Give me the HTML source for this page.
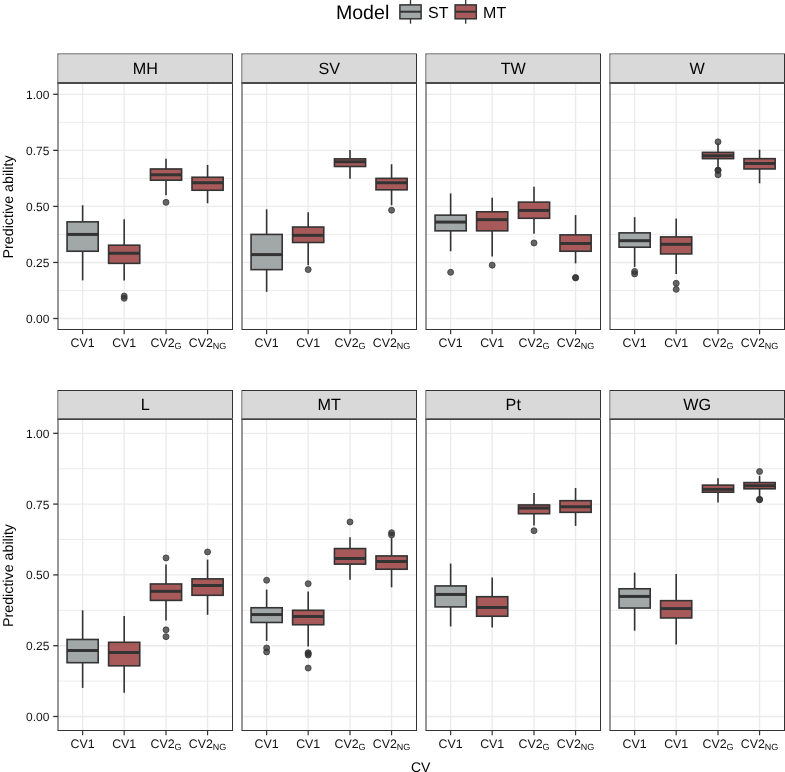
<!DOCTYPE html>
<html><head><meta charset="utf-8"><style>
html,body{margin:0;padding:0;background:#fff;}
body{width:785px;height:772px;overflow:hidden;}
svg{display:block;}
</style></head><body>
<svg width="785" height="772" viewBox="0 0 785 772" font-family="'Liberation Sans', Arial, Helvetica, sans-serif">
<rect x="0" y="0" width="785" height="772" fill="#ffffff"/>
<rect x="58.00" y="83.00" width="174.50" height="246.50" fill="#ffffff"/>
<line x1="58.00" x2="232.50" y1="290.48" y2="290.48" stroke="#EBEBEB" stroke-width="1.0"/>
<line x1="58.00" x2="232.50" y1="234.43" y2="234.43" stroke="#EBEBEB" stroke-width="1.0"/>
<line x1="58.00" x2="232.50" y1="178.38" y2="178.38" stroke="#EBEBEB" stroke-width="1.0"/>
<line x1="58.00" x2="232.50" y1="122.33" y2="122.33" stroke="#EBEBEB" stroke-width="1.0"/>
<line x1="58.00" x2="232.50" y1="318.50" y2="318.50" stroke="#EBEBEB" stroke-width="1.35"/>
<line x1="58.00" x2="232.50" y1="262.45" y2="262.45" stroke="#EBEBEB" stroke-width="1.35"/>
<line x1="58.00" x2="232.50" y1="206.40" y2="206.40" stroke="#EBEBEB" stroke-width="1.35"/>
<line x1="58.00" x2="232.50" y1="150.35" y2="150.35" stroke="#EBEBEB" stroke-width="1.35"/>
<line x1="58.00" x2="232.50" y1="94.30" y2="94.30" stroke="#EBEBEB" stroke-width="1.35"/>
<line x1="82.63" x2="82.63" y1="83.00" y2="329.50" stroke="#EBEBEB" stroke-width="1.35"/>
<line x1="124.18" x2="124.18" y1="83.00" y2="329.50" stroke="#EBEBEB" stroke-width="1.35"/>
<line x1="166.02" x2="166.02" y1="83.00" y2="329.50" stroke="#EBEBEB" stroke-width="1.35"/>
<line x1="207.57" x2="207.57" y1="83.00" y2="329.50" stroke="#EBEBEB" stroke-width="1.35"/>
<line x1="82.63" x2="82.63" y1="205.28" y2="221.87" stroke="#333333" stroke-width="1.6"/>
<line x1="82.63" x2="82.63" y1="251.24" y2="280.39" stroke="#333333" stroke-width="1.6"/>
<rect x="67.05" y="221.87" width="31.16" height="29.37" fill="#A2A8A8" stroke="#333333" stroke-width="1.6"/>
<line x1="67.05" x2="98.21" y1="234.43" y2="234.43" stroke="#333333" stroke-width="3.0"/>
<line x1="124.18" x2="124.18" y1="219.18" y2="245.19" stroke="#333333" stroke-width="1.6"/>
<line x1="124.18" x2="124.18" y1="263.35" y2="280.39" stroke="#333333" stroke-width="1.6"/>
<rect x="108.60" y="245.19" width="31.16" height="18.16" fill="#A85A5A" stroke="#333333" stroke-width="1.6"/>
<line x1="108.60" x2="139.76" y1="253.26" y2="253.26" stroke="#333333" stroke-width="3.0"/>
<circle cx="124.18" cy="296.08" r="3.0" fill="#333333" fill-opacity="0.75" stroke="#333333" stroke-opacity="0.75" stroke-width="1"/>
<circle cx="124.18" cy="298.32" r="3.0" fill="#333333" fill-opacity="0.75" stroke="#333333" stroke-opacity="0.75" stroke-width="1"/>
<line x1="166.02" x2="166.02" y1="158.87" y2="168.96" stroke="#333333" stroke-width="1.6"/>
<line x1="166.02" x2="166.02" y1="180.17" y2="195.19" stroke="#333333" stroke-width="1.6"/>
<rect x="150.44" y="168.96" width="31.16" height="11.21" fill="#A85A5A" stroke="#333333" stroke-width="1.6"/>
<line x1="150.44" x2="181.60" y1="174.79" y2="174.79" stroke="#333333" stroke-width="3.0"/>
<circle cx="166.02" cy="202.36" r="3.0" fill="#333333" fill-opacity="0.75" stroke="#333333" stroke-opacity="0.75" stroke-width="1"/>
<line x1="207.57" x2="207.57" y1="164.92" y2="177.25" stroke="#333333" stroke-width="1.6"/>
<line x1="207.57" x2="207.57" y1="190.26" y2="203.26" stroke="#333333" stroke-width="1.6"/>
<rect x="191.99" y="177.25" width="31.16" height="13.00" fill="#A85A5A" stroke="#333333" stroke-width="1.6"/>
<line x1="191.99" x2="223.15" y1="182.86" y2="182.86" stroke="#333333" stroke-width="3.0"/>
<rect x="58.00" y="54.00" width="174.50" height="275.50" fill="none" stroke="#333333" stroke-width="1"/>
<rect x="58.50" y="54.50" width="173.50" height="27.50" fill="#D9D9D9"/>
<rect x="57.50" y="82" width="175.50" height="2" fill="#4a4a4a"/>
<text transform="translate(145.25 74.10) skewX(0.05)" font-size="16.2" text-anchor="middle" fill="#000">MH</text>
<line x1="82.63" x2="82.63" y1="329.50" y2="334.30" stroke="#333333" stroke-width="1.2"/>
<text transform="translate(82.63 346.90) skewX(0.05)" font-size="12.4" text-anchor="middle" fill="#111111">CV1</text>
<line x1="124.18" x2="124.18" y1="329.50" y2="334.30" stroke="#333333" stroke-width="1.2"/>
<text transform="translate(124.18 346.90) skewX(0.05)" font-size="12.4" text-anchor="middle" fill="#111111">CV1</text>
<line x1="166.02" x2="166.02" y1="329.50" y2="334.30" stroke="#333333" stroke-width="1.2"/>
<text transform="translate(166.02 346.90) skewX(0.05)" font-size="12.4" text-anchor="middle" fill="#111111">CV2<tspan font-size="9" dy="2.2">G</tspan></text>
<line x1="207.57" x2="207.57" y1="329.50" y2="334.30" stroke="#333333" stroke-width="1.2"/>
<text transform="translate(207.57 346.90) skewX(0.05)" font-size="12.4" text-anchor="middle" fill="#111111">CV2<tspan font-size="9" dy="2.2">NG</tspan></text>
<rect x="242.00" y="83.00" width="174.50" height="246.50" fill="#ffffff"/>
<line x1="242.00" x2="416.50" y1="290.48" y2="290.48" stroke="#EBEBEB" stroke-width="1.0"/>
<line x1="242.00" x2="416.50" y1="234.43" y2="234.43" stroke="#EBEBEB" stroke-width="1.0"/>
<line x1="242.00" x2="416.50" y1="178.38" y2="178.38" stroke="#EBEBEB" stroke-width="1.0"/>
<line x1="242.00" x2="416.50" y1="122.33" y2="122.33" stroke="#EBEBEB" stroke-width="1.0"/>
<line x1="242.00" x2="416.50" y1="318.50" y2="318.50" stroke="#EBEBEB" stroke-width="1.35"/>
<line x1="242.00" x2="416.50" y1="262.45" y2="262.45" stroke="#EBEBEB" stroke-width="1.35"/>
<line x1="242.00" x2="416.50" y1="206.40" y2="206.40" stroke="#EBEBEB" stroke-width="1.35"/>
<line x1="242.00" x2="416.50" y1="150.35" y2="150.35" stroke="#EBEBEB" stroke-width="1.35"/>
<line x1="242.00" x2="416.50" y1="94.30" y2="94.30" stroke="#EBEBEB" stroke-width="1.35"/>
<line x1="266.63" x2="266.63" y1="83.00" y2="329.50" stroke="#EBEBEB" stroke-width="1.35"/>
<line x1="308.18" x2="308.18" y1="83.00" y2="329.50" stroke="#EBEBEB" stroke-width="1.35"/>
<line x1="350.02" x2="350.02" y1="83.00" y2="329.50" stroke="#EBEBEB" stroke-width="1.35"/>
<line x1="391.57" x2="391.57" y1="83.00" y2="329.50" stroke="#EBEBEB" stroke-width="1.35"/>
<line x1="266.63" x2="266.63" y1="209.31" y2="234.43" stroke="#333333" stroke-width="1.6"/>
<line x1="266.63" x2="266.63" y1="269.62" y2="291.82" stroke="#333333" stroke-width="1.6"/>
<rect x="251.05" y="234.43" width="31.16" height="35.20" fill="#A2A8A8" stroke="#333333" stroke-width="1.6"/>
<line x1="251.05" x2="282.21" y1="254.60" y2="254.60" stroke="#333333" stroke-width="3.0"/>
<line x1="308.18" x2="308.18" y1="212.23" y2="227.03" stroke="#333333" stroke-width="1.6"/>
<line x1="308.18" x2="308.18" y1="242.50" y2="265.14" stroke="#333333" stroke-width="1.6"/>
<rect x="292.60" y="227.03" width="31.16" height="15.47" fill="#A85A5A" stroke="#333333" stroke-width="1.6"/>
<line x1="292.60" x2="323.76" y1="235.32" y2="235.32" stroke="#333333" stroke-width="3.0"/>
<circle cx="308.18" cy="269.62" r="3.0" fill="#333333" fill-opacity="0.75" stroke="#333333" stroke-opacity="0.75" stroke-width="1"/>
<line x1="350.02" x2="350.02" y1="149.90" y2="158.87" stroke="#333333" stroke-width="1.6"/>
<line x1="350.02" x2="350.02" y1="166.49" y2="178.82" stroke="#333333" stroke-width="1.6"/>
<rect x="334.44" y="158.87" width="31.16" height="7.62" fill="#A85A5A" stroke="#333333" stroke-width="1.6"/>
<line x1="334.44" x2="365.60" y1="161.78" y2="161.78" stroke="#333333" stroke-width="3.0"/>
<line x1="391.57" x2="391.57" y1="164.25" y2="178.38" stroke="#333333" stroke-width="1.6"/>
<line x1="391.57" x2="391.57" y1="189.81" y2="205.28" stroke="#333333" stroke-width="1.6"/>
<rect x="375.99" y="178.38" width="31.16" height="11.43" fill="#A85A5A" stroke="#333333" stroke-width="1.6"/>
<line x1="375.99" x2="407.15" y1="182.63" y2="182.63" stroke="#333333" stroke-width="3.0"/>
<circle cx="391.57" cy="210.21" r="3.0" fill="#333333" fill-opacity="0.75" stroke="#333333" stroke-opacity="0.75" stroke-width="1"/>
<rect x="242.00" y="54.00" width="174.50" height="275.50" fill="none" stroke="#333333" stroke-width="1"/>
<rect x="242.50" y="54.50" width="173.50" height="27.50" fill="#D9D9D9"/>
<rect x="241.50" y="82" width="175.50" height="2" fill="#4a4a4a"/>
<text transform="translate(329.25 74.10) skewX(0.05)" font-size="16.2" text-anchor="middle" fill="#000">SV</text>
<line x1="266.63" x2="266.63" y1="329.50" y2="334.30" stroke="#333333" stroke-width="1.2"/>
<text transform="translate(266.63 346.90) skewX(0.05)" font-size="12.4" text-anchor="middle" fill="#111111">CV1</text>
<line x1="308.18" x2="308.18" y1="329.50" y2="334.30" stroke="#333333" stroke-width="1.2"/>
<text transform="translate(308.18 346.90) skewX(0.05)" font-size="12.4" text-anchor="middle" fill="#111111">CV1</text>
<line x1="350.02" x2="350.02" y1="329.50" y2="334.30" stroke="#333333" stroke-width="1.2"/>
<text transform="translate(350.02 346.90) skewX(0.05)" font-size="12.4" text-anchor="middle" fill="#111111">CV2<tspan font-size="9" dy="2.2">G</tspan></text>
<line x1="391.57" x2="391.57" y1="329.50" y2="334.30" stroke="#333333" stroke-width="1.2"/>
<text transform="translate(391.57 346.90) skewX(0.05)" font-size="12.4" text-anchor="middle" fill="#111111">CV2<tspan font-size="9" dy="2.2">NG</tspan></text>
<rect x="426.00" y="83.00" width="174.50" height="246.50" fill="#ffffff"/>
<line x1="426.00" x2="600.50" y1="290.48" y2="290.48" stroke="#EBEBEB" stroke-width="1.0"/>
<line x1="426.00" x2="600.50" y1="234.43" y2="234.43" stroke="#EBEBEB" stroke-width="1.0"/>
<line x1="426.00" x2="600.50" y1="178.38" y2="178.38" stroke="#EBEBEB" stroke-width="1.0"/>
<line x1="426.00" x2="600.50" y1="122.33" y2="122.33" stroke="#EBEBEB" stroke-width="1.0"/>
<line x1="426.00" x2="600.50" y1="318.50" y2="318.50" stroke="#EBEBEB" stroke-width="1.35"/>
<line x1="426.00" x2="600.50" y1="262.45" y2="262.45" stroke="#EBEBEB" stroke-width="1.35"/>
<line x1="426.00" x2="600.50" y1="206.40" y2="206.40" stroke="#EBEBEB" stroke-width="1.35"/>
<line x1="426.00" x2="600.50" y1="150.35" y2="150.35" stroke="#EBEBEB" stroke-width="1.35"/>
<line x1="426.00" x2="600.50" y1="94.30" y2="94.30" stroke="#EBEBEB" stroke-width="1.35"/>
<line x1="450.63" x2="450.63" y1="83.00" y2="329.50" stroke="#EBEBEB" stroke-width="1.35"/>
<line x1="492.18" x2="492.18" y1="83.00" y2="329.50" stroke="#EBEBEB" stroke-width="1.35"/>
<line x1="534.02" x2="534.02" y1="83.00" y2="329.50" stroke="#EBEBEB" stroke-width="1.35"/>
<line x1="575.57" x2="575.57" y1="83.00" y2="329.50" stroke="#EBEBEB" stroke-width="1.35"/>
<line x1="450.63" x2="450.63" y1="193.40" y2="215.14" stroke="#333333" stroke-width="1.6"/>
<line x1="450.63" x2="450.63" y1="230.84" y2="251.24" stroke="#333333" stroke-width="1.6"/>
<rect x="435.05" y="215.14" width="31.16" height="15.69" fill="#A2A8A8" stroke="#333333" stroke-width="1.6"/>
<line x1="435.05" x2="466.21" y1="222.09" y2="222.09" stroke="#333333" stroke-width="3.0"/>
<circle cx="450.63" cy="272.31" r="3.0" fill="#333333" fill-opacity="0.75" stroke="#333333" stroke-opacity="0.75" stroke-width="1"/>
<line x1="492.18" x2="492.18" y1="197.66" y2="211.78" stroke="#333333" stroke-width="1.6"/>
<line x1="492.18" x2="492.18" y1="230.84" y2="256.62" stroke="#333333" stroke-width="1.6"/>
<rect x="476.60" y="211.78" width="31.16" height="19.06" fill="#A85A5A" stroke="#333333" stroke-width="1.6"/>
<line x1="476.60" x2="507.76" y1="219.63" y2="219.63" stroke="#333333" stroke-width="3.0"/>
<circle cx="492.18" cy="265.14" r="3.0" fill="#333333" fill-opacity="0.75" stroke="#333333" stroke-opacity="0.75" stroke-width="1"/>
<line x1="534.02" x2="534.02" y1="186.67" y2="202.14" stroke="#333333" stroke-width="1.6"/>
<line x1="534.02" x2="534.02" y1="218.28" y2="233.75" stroke="#333333" stroke-width="1.6"/>
<rect x="518.44" y="202.14" width="31.16" height="16.14" fill="#A85A5A" stroke="#333333" stroke-width="1.6"/>
<line x1="518.44" x2="549.60" y1="210.44" y2="210.44" stroke="#333333" stroke-width="3.0"/>
<circle cx="534.02" cy="242.94" r="3.0" fill="#333333" fill-opacity="0.75" stroke="#333333" stroke-opacity="0.75" stroke-width="1"/>
<line x1="575.57" x2="575.57" y1="215.14" y2="234.87" stroke="#333333" stroke-width="1.6"/>
<line x1="575.57" x2="575.57" y1="251.24" y2="263.35" stroke="#333333" stroke-width="1.6"/>
<rect x="559.99" y="234.87" width="31.16" height="16.37" fill="#A85A5A" stroke="#333333" stroke-width="1.6"/>
<line x1="559.99" x2="591.15" y1="243.39" y2="243.39" stroke="#333333" stroke-width="3.0"/>
<circle cx="575.57" cy="277.92" r="3.0" fill="#333333" fill-opacity="0.75" stroke="#333333" stroke-opacity="0.75" stroke-width="1"/>
<circle cx="575.57" cy="277.47" r="3.0" fill="#333333" fill-opacity="0.75" stroke="#333333" stroke-opacity="0.75" stroke-width="1"/>
<rect x="426.00" y="54.00" width="174.50" height="275.50" fill="none" stroke="#333333" stroke-width="1"/>
<rect x="426.50" y="54.50" width="173.50" height="27.50" fill="#D9D9D9"/>
<rect x="425.50" y="82" width="175.50" height="2" fill="#4a4a4a"/>
<text transform="translate(513.25 74.10) skewX(0.05)" font-size="16.2" text-anchor="middle" fill="#000">TW</text>
<line x1="450.63" x2="450.63" y1="329.50" y2="334.30" stroke="#333333" stroke-width="1.2"/>
<text transform="translate(450.63 346.90) skewX(0.05)" font-size="12.4" text-anchor="middle" fill="#111111">CV1</text>
<line x1="492.18" x2="492.18" y1="329.50" y2="334.30" stroke="#333333" stroke-width="1.2"/>
<text transform="translate(492.18 346.90) skewX(0.05)" font-size="12.4" text-anchor="middle" fill="#111111">CV1</text>
<line x1="534.02" x2="534.02" y1="329.50" y2="334.30" stroke="#333333" stroke-width="1.2"/>
<text transform="translate(534.02 346.90) skewX(0.05)" font-size="12.4" text-anchor="middle" fill="#111111">CV2<tspan font-size="9" dy="2.2">G</tspan></text>
<line x1="575.57" x2="575.57" y1="329.50" y2="334.30" stroke="#333333" stroke-width="1.2"/>
<text transform="translate(575.57 346.90) skewX(0.05)" font-size="12.4" text-anchor="middle" fill="#111111">CV2<tspan font-size="9" dy="2.2">NG</tspan></text>
<rect x="610.00" y="83.00" width="174.50" height="246.50" fill="#ffffff"/>
<line x1="610.00" x2="784.50" y1="290.48" y2="290.48" stroke="#EBEBEB" stroke-width="1.0"/>
<line x1="610.00" x2="784.50" y1="234.43" y2="234.43" stroke="#EBEBEB" stroke-width="1.0"/>
<line x1="610.00" x2="784.50" y1="178.38" y2="178.38" stroke="#EBEBEB" stroke-width="1.0"/>
<line x1="610.00" x2="784.50" y1="122.33" y2="122.33" stroke="#EBEBEB" stroke-width="1.0"/>
<line x1="610.00" x2="784.50" y1="318.50" y2="318.50" stroke="#EBEBEB" stroke-width="1.35"/>
<line x1="610.00" x2="784.50" y1="262.45" y2="262.45" stroke="#EBEBEB" stroke-width="1.35"/>
<line x1="610.00" x2="784.50" y1="206.40" y2="206.40" stroke="#EBEBEB" stroke-width="1.35"/>
<line x1="610.00" x2="784.50" y1="150.35" y2="150.35" stroke="#EBEBEB" stroke-width="1.35"/>
<line x1="610.00" x2="784.50" y1="94.30" y2="94.30" stroke="#EBEBEB" stroke-width="1.35"/>
<line x1="634.63" x2="634.63" y1="83.00" y2="329.50" stroke="#EBEBEB" stroke-width="1.35"/>
<line x1="676.18" x2="676.18" y1="83.00" y2="329.50" stroke="#EBEBEB" stroke-width="1.35"/>
<line x1="718.02" x2="718.02" y1="83.00" y2="329.50" stroke="#EBEBEB" stroke-width="1.35"/>
<line x1="759.57" x2="759.57" y1="83.00" y2="329.50" stroke="#EBEBEB" stroke-width="1.35"/>
<line x1="634.63" x2="634.63" y1="217.16" y2="232.86" stroke="#333333" stroke-width="1.6"/>
<line x1="634.63" x2="634.63" y1="247.20" y2="266.93" stroke="#333333" stroke-width="1.6"/>
<rect x="619.05" y="232.86" width="31.16" height="14.35" fill="#A2A8A8" stroke="#333333" stroke-width="1.6"/>
<line x1="619.05" x2="650.21" y1="240.70" y2="240.70" stroke="#333333" stroke-width="3.0"/>
<circle cx="634.63" cy="271.42" r="3.0" fill="#333333" fill-opacity="0.75" stroke="#333333" stroke-opacity="0.75" stroke-width="1"/>
<circle cx="634.63" cy="273.88" r="3.0" fill="#333333" fill-opacity="0.75" stroke="#333333" stroke-opacity="0.75" stroke-width="1"/>
<line x1="676.18" x2="676.18" y1="218.51" y2="236.89" stroke="#333333" stroke-width="1.6"/>
<line x1="676.18" x2="676.18" y1="253.93" y2="273.88" stroke="#333333" stroke-width="1.6"/>
<rect x="660.60" y="236.89" width="31.16" height="17.04" fill="#A85A5A" stroke="#333333" stroke-width="1.6"/>
<line x1="660.60" x2="691.76" y1="244.29" y2="244.29" stroke="#333333" stroke-width="3.0"/>
<circle cx="676.18" cy="283.30" r="3.0" fill="#333333" fill-opacity="0.75" stroke="#333333" stroke-opacity="0.75" stroke-width="1"/>
<circle cx="676.18" cy="289.35" r="3.0" fill="#333333" fill-opacity="0.75" stroke="#333333" stroke-opacity="0.75" stroke-width="1"/>
<line x1="718.02" x2="718.02" y1="143.62" y2="152.37" stroke="#333333" stroke-width="1.6"/>
<line x1="718.02" x2="718.02" y1="158.65" y2="169.41" stroke="#333333" stroke-width="1.6"/>
<rect x="702.44" y="152.37" width="31.16" height="6.28" fill="#A85A5A" stroke="#333333" stroke-width="1.6"/>
<line x1="702.44" x2="733.60" y1="155.73" y2="155.73" stroke="#333333" stroke-width="3.0"/>
<circle cx="718.02" cy="141.83" r="3.0" fill="#333333" fill-opacity="0.75" stroke="#333333" stroke-opacity="0.75" stroke-width="1"/>
<circle cx="718.02" cy="170.08" r="3.0" fill="#333333" fill-opacity="0.75" stroke="#333333" stroke-opacity="0.75" stroke-width="1"/>
<circle cx="718.02" cy="170.53" r="3.0" fill="#333333" fill-opacity="0.75" stroke="#333333" stroke-opacity="0.75" stroke-width="1"/>
<circle cx="718.02" cy="174.79" r="3.0" fill="#333333" fill-opacity="0.75" stroke="#333333" stroke-opacity="0.75" stroke-width="1"/>
<line x1="759.57" x2="759.57" y1="149.68" y2="158.65" stroke="#333333" stroke-width="1.6"/>
<line x1="759.57" x2="759.57" y1="168.96" y2="183.31" stroke="#333333" stroke-width="1.6"/>
<rect x="743.99" y="158.65" width="31.16" height="10.31" fill="#A85A5A" stroke="#333333" stroke-width="1.6"/>
<line x1="743.99" x2="775.15" y1="163.58" y2="163.58" stroke="#333333" stroke-width="3.0"/>
<rect x="610.00" y="54.00" width="174.50" height="275.50" fill="none" stroke="#333333" stroke-width="1"/>
<rect x="610.50" y="54.50" width="173.50" height="27.50" fill="#D9D9D9"/>
<rect x="609.50" y="82" width="175.50" height="2" fill="#4a4a4a"/>
<text transform="translate(697.25 74.10) skewX(0.05)" font-size="16.2" text-anchor="middle" fill="#000">W</text>
<line x1="634.63" x2="634.63" y1="329.50" y2="334.30" stroke="#333333" stroke-width="1.2"/>
<text transform="translate(634.63 346.90) skewX(0.05)" font-size="12.4" text-anchor="middle" fill="#111111">CV1</text>
<line x1="676.18" x2="676.18" y1="329.50" y2="334.30" stroke="#333333" stroke-width="1.2"/>
<text transform="translate(676.18 346.90) skewX(0.05)" font-size="12.4" text-anchor="middle" fill="#111111">CV1</text>
<line x1="718.02" x2="718.02" y1="329.50" y2="334.30" stroke="#333333" stroke-width="1.2"/>
<text transform="translate(718.02 346.90) skewX(0.05)" font-size="12.4" text-anchor="middle" fill="#111111">CV2<tspan font-size="9" dy="2.2">G</tspan></text>
<line x1="759.57" x2="759.57" y1="329.50" y2="334.30" stroke="#333333" stroke-width="1.2"/>
<text transform="translate(759.57 346.90) skewX(0.05)" font-size="12.4" text-anchor="middle" fill="#111111">CV2<tspan font-size="9" dy="2.2">NG</tspan></text>
<line x1="53.20" x2="58.00" y1="318.50" y2="318.50" stroke="#333333" stroke-width="1.3"/>
<text transform="translate(49.40 323.00) skewX(0.05)" font-size="12.0" text-anchor="end" fill="#111111">0.00</text>
<line x1="53.20" x2="58.00" y1="262.45" y2="262.45" stroke="#333333" stroke-width="1.3"/>
<text transform="translate(49.40 266.95) skewX(0.05)" font-size="12.0" text-anchor="end" fill="#111111">0.25</text>
<line x1="53.20" x2="58.00" y1="206.40" y2="206.40" stroke="#333333" stroke-width="1.3"/>
<text transform="translate(49.40 210.90) skewX(0.05)" font-size="12.0" text-anchor="end" fill="#111111">0.50</text>
<line x1="53.20" x2="58.00" y1="150.35" y2="150.35" stroke="#333333" stroke-width="1.3"/>
<text transform="translate(49.40 154.85) skewX(0.05)" font-size="12.0" text-anchor="end" fill="#111111">0.75</text>
<line x1="53.20" x2="58.00" y1="94.30" y2="94.30" stroke="#333333" stroke-width="1.3"/>
<text transform="translate(49.40 98.80) skewX(0.05)" font-size="12.0" text-anchor="end" fill="#111111">1.00</text>
<text transform="translate(12.80 206.95) rotate(-90) skewX(0.05)" font-size="14.25" text-anchor="middle" fill="#000">Predictive ability</text>
<rect x="58.00" y="419.10" width="174.50" height="311.40" fill="#ffffff"/>
<line x1="58.00" x2="232.50" y1="681.10" y2="681.10" stroke="#EBEBEB" stroke-width="1.0"/>
<line x1="58.00" x2="232.50" y1="610.30" y2="610.30" stroke="#EBEBEB" stroke-width="1.0"/>
<line x1="58.00" x2="232.50" y1="539.50" y2="539.50" stroke="#EBEBEB" stroke-width="1.0"/>
<line x1="58.00" x2="232.50" y1="468.70" y2="468.70" stroke="#EBEBEB" stroke-width="1.0"/>
<line x1="58.00" x2="232.50" y1="716.50" y2="716.50" stroke="#EBEBEB" stroke-width="1.35"/>
<line x1="58.00" x2="232.50" y1="645.70" y2="645.70" stroke="#EBEBEB" stroke-width="1.35"/>
<line x1="58.00" x2="232.50" y1="574.90" y2="574.90" stroke="#EBEBEB" stroke-width="1.35"/>
<line x1="58.00" x2="232.50" y1="504.10" y2="504.10" stroke="#EBEBEB" stroke-width="1.35"/>
<line x1="58.00" x2="232.50" y1="433.30" y2="433.30" stroke="#EBEBEB" stroke-width="1.35"/>
<line x1="82.63" x2="82.63" y1="419.10" y2="730.50" stroke="#EBEBEB" stroke-width="1.35"/>
<line x1="124.18" x2="124.18" y1="419.10" y2="730.50" stroke="#EBEBEB" stroke-width="1.35"/>
<line x1="166.02" x2="166.02" y1="419.10" y2="730.50" stroke="#EBEBEB" stroke-width="1.35"/>
<line x1="207.57" x2="207.57" y1="419.10" y2="730.50" stroke="#EBEBEB" stroke-width="1.35"/>
<line x1="82.63" x2="82.63" y1="610.30" y2="639.47" stroke="#333333" stroke-width="1.6"/>
<line x1="82.63" x2="82.63" y1="662.69" y2="687.90" stroke="#333333" stroke-width="1.6"/>
<rect x="67.05" y="639.47" width="31.16" height="23.22" fill="#A2A8A8" stroke="#333333" stroke-width="1.6"/>
<line x1="67.05" x2="98.21" y1="650.51" y2="650.51" stroke="#333333" stroke-width="3.0"/>
<line x1="124.18" x2="124.18" y1="615.96" y2="642.30" stroke="#333333" stroke-width="1.6"/>
<line x1="124.18" x2="124.18" y1="665.81" y2="692.71" stroke="#333333" stroke-width="1.6"/>
<rect x="108.60" y="642.30" width="31.16" height="23.51" fill="#A85A5A" stroke="#333333" stroke-width="1.6"/>
<line x1="108.60" x2="139.76" y1="652.50" y2="652.50" stroke="#333333" stroke-width="3.0"/>
<line x1="166.02" x2="166.02" y1="564.42" y2="583.96" stroke="#333333" stroke-width="1.6"/>
<line x1="166.02" x2="166.02" y1="600.39" y2="620.50" stroke="#333333" stroke-width="1.6"/>
<rect x="150.44" y="583.96" width="31.16" height="16.43" fill="#A85A5A" stroke="#333333" stroke-width="1.6"/>
<line x1="150.44" x2="181.60" y1="591.33" y2="591.33" stroke="#333333" stroke-width="3.0"/>
<circle cx="166.02" cy="557.91" r="3.0" fill="#333333" fill-opacity="0.75" stroke="#333333" stroke-opacity="0.75" stroke-width="1"/>
<circle cx="166.02" cy="629.84" r="3.0" fill="#333333" fill-opacity="0.75" stroke="#333333" stroke-opacity="0.75" stroke-width="1"/>
<circle cx="166.02" cy="636.64" r="3.0" fill="#333333" fill-opacity="0.75" stroke="#333333" stroke-opacity="0.75" stroke-width="1"/>
<line x1="207.57" x2="207.57" y1="559.61" y2="578.86" stroke="#333333" stroke-width="1.6"/>
<line x1="207.57" x2="207.57" y1="595.29" y2="614.83" stroke="#333333" stroke-width="1.6"/>
<rect x="191.99" y="578.86" width="31.16" height="16.43" fill="#A85A5A" stroke="#333333" stroke-width="1.6"/>
<line x1="191.99" x2="223.15" y1="585.38" y2="585.38" stroke="#333333" stroke-width="3.0"/>
<circle cx="207.57" cy="551.96" r="3.0" fill="#333333" fill-opacity="0.75" stroke="#333333" stroke-opacity="0.75" stroke-width="1"/>
<rect x="58.00" y="390.50" width="174.50" height="340.00" fill="none" stroke="#333333" stroke-width="1"/>
<rect x="58.50" y="391.00" width="173.50" height="27.10" fill="#D9D9D9"/>
<rect x="57.50" y="418" width="175.50" height="1" fill="#707070"/>
<rect x="57.50" y="419" width="175.50" height="1" fill="#404040"/>
<text transform="translate(145.25 410.40) skewX(0.05)" font-size="16.2" text-anchor="middle" fill="#000">L</text>
<line x1="82.63" x2="82.63" y1="730.50" y2="735.30" stroke="#333333" stroke-width="1.2"/>
<text transform="translate(82.63 747.90) skewX(0.05)" font-size="12.4" text-anchor="middle" fill="#111111">CV1</text>
<line x1="124.18" x2="124.18" y1="730.50" y2="735.30" stroke="#333333" stroke-width="1.2"/>
<text transform="translate(124.18 747.90) skewX(0.05)" font-size="12.4" text-anchor="middle" fill="#111111">CV1</text>
<line x1="166.02" x2="166.02" y1="730.50" y2="735.30" stroke="#333333" stroke-width="1.2"/>
<text transform="translate(166.02 747.90) skewX(0.05)" font-size="12.4" text-anchor="middle" fill="#111111">CV2<tspan font-size="9" dy="2.2">G</tspan></text>
<line x1="207.57" x2="207.57" y1="730.50" y2="735.30" stroke="#333333" stroke-width="1.2"/>
<text transform="translate(207.57 747.90) skewX(0.05)" font-size="12.4" text-anchor="middle" fill="#111111">CV2<tspan font-size="9" dy="2.2">NG</tspan></text>
<rect x="242.00" y="419.10" width="174.50" height="311.40" fill="#ffffff"/>
<line x1="242.00" x2="416.50" y1="681.10" y2="681.10" stroke="#EBEBEB" stroke-width="1.0"/>
<line x1="242.00" x2="416.50" y1="610.30" y2="610.30" stroke="#EBEBEB" stroke-width="1.0"/>
<line x1="242.00" x2="416.50" y1="539.50" y2="539.50" stroke="#EBEBEB" stroke-width="1.0"/>
<line x1="242.00" x2="416.50" y1="468.70" y2="468.70" stroke="#EBEBEB" stroke-width="1.0"/>
<line x1="242.00" x2="416.50" y1="716.50" y2="716.50" stroke="#EBEBEB" stroke-width="1.35"/>
<line x1="242.00" x2="416.50" y1="645.70" y2="645.70" stroke="#EBEBEB" stroke-width="1.35"/>
<line x1="242.00" x2="416.50" y1="574.90" y2="574.90" stroke="#EBEBEB" stroke-width="1.35"/>
<line x1="242.00" x2="416.50" y1="504.10" y2="504.10" stroke="#EBEBEB" stroke-width="1.35"/>
<line x1="242.00" x2="416.50" y1="433.30" y2="433.30" stroke="#EBEBEB" stroke-width="1.35"/>
<line x1="266.63" x2="266.63" y1="419.10" y2="730.50" stroke="#EBEBEB" stroke-width="1.35"/>
<line x1="308.18" x2="308.18" y1="419.10" y2="730.50" stroke="#EBEBEB" stroke-width="1.35"/>
<line x1="350.02" x2="350.02" y1="419.10" y2="730.50" stroke="#EBEBEB" stroke-width="1.35"/>
<line x1="391.57" x2="391.57" y1="419.10" y2="730.50" stroke="#EBEBEB" stroke-width="1.35"/>
<line x1="266.63" x2="266.63" y1="589.63" y2="607.75" stroke="#333333" stroke-width="1.6"/>
<line x1="266.63" x2="266.63" y1="622.48" y2="640.89" stroke="#333333" stroke-width="1.6"/>
<rect x="251.05" y="607.75" width="31.16" height="14.73" fill="#A2A8A8" stroke="#333333" stroke-width="1.6"/>
<line x1="251.05" x2="282.21" y1="614.55" y2="614.55" stroke="#333333" stroke-width="3.0"/>
<circle cx="266.63" cy="580.28" r="3.0" fill="#333333" fill-opacity="0.75" stroke="#333333" stroke-opacity="0.75" stroke-width="1"/>
<circle cx="266.63" cy="647.97" r="3.0" fill="#333333" fill-opacity="0.75" stroke="#333333" stroke-opacity="0.75" stroke-width="1"/>
<circle cx="266.63" cy="651.93" r="3.0" fill="#333333" fill-opacity="0.75" stroke="#333333" stroke-opacity="0.75" stroke-width="1"/>
<line x1="308.18" x2="308.18" y1="591.61" y2="610.30" stroke="#333333" stroke-width="1.6"/>
<line x1="308.18" x2="308.18" y1="624.74" y2="646.55" stroke="#333333" stroke-width="1.6"/>
<rect x="292.60" y="610.30" width="31.16" height="14.44" fill="#A85A5A" stroke="#333333" stroke-width="1.6"/>
<line x1="292.60" x2="323.76" y1="616.53" y2="616.53" stroke="#333333" stroke-width="3.0"/>
<circle cx="308.18" cy="583.68" r="3.0" fill="#333333" fill-opacity="0.75" stroke="#333333" stroke-opacity="0.75" stroke-width="1"/>
<circle cx="308.18" cy="652.78" r="3.0" fill="#333333" fill-opacity="0.75" stroke="#333333" stroke-opacity="0.75" stroke-width="1"/>
<circle cx="308.18" cy="653.63" r="3.0" fill="#333333" fill-opacity="0.75" stroke="#333333" stroke-opacity="0.75" stroke-width="1"/>
<circle cx="308.18" cy="655.05" r="3.0" fill="#333333" fill-opacity="0.75" stroke="#333333" stroke-opacity="0.75" stroke-width="1"/>
<circle cx="308.18" cy="668.07" r="3.0" fill="#333333" fill-opacity="0.75" stroke="#333333" stroke-opacity="0.75" stroke-width="1"/>
<line x1="350.02" x2="350.02" y1="537.23" y2="548.56" stroke="#333333" stroke-width="1.6"/>
<line x1="350.02" x2="350.02" y1="564.14" y2="579.71" stroke="#333333" stroke-width="1.6"/>
<rect x="334.44" y="548.56" width="31.16" height="15.58" fill="#A85A5A" stroke="#333333" stroke-width="1.6"/>
<line x1="334.44" x2="365.60" y1="558.47" y2="558.47" stroke="#333333" stroke-width="3.0"/>
<circle cx="350.02" cy="521.94" r="3.0" fill="#333333" fill-opacity="0.75" stroke="#333333" stroke-opacity="0.75" stroke-width="1"/>
<line x1="391.57" x2="391.57" y1="538.08" y2="555.93" stroke="#333333" stroke-width="1.6"/>
<line x1="391.57" x2="391.57" y1="569.24" y2="587.36" stroke="#333333" stroke-width="1.6"/>
<rect x="375.99" y="555.93" width="31.16" height="13.31" fill="#A85A5A" stroke="#333333" stroke-width="1.6"/>
<line x1="375.99" x2="407.15" y1="561.59" y2="561.59" stroke="#333333" stroke-width="3.0"/>
<circle cx="391.57" cy="532.70" r="3.0" fill="#333333" fill-opacity="0.75" stroke="#333333" stroke-opacity="0.75" stroke-width="1"/>
<circle cx="391.57" cy="534.97" r="3.0" fill="#333333" fill-opacity="0.75" stroke="#333333" stroke-opacity="0.75" stroke-width="1"/>
<rect x="242.00" y="390.50" width="174.50" height="340.00" fill="none" stroke="#333333" stroke-width="1"/>
<rect x="242.50" y="391.00" width="173.50" height="27.10" fill="#D9D9D9"/>
<rect x="241.50" y="418" width="175.50" height="1" fill="#707070"/>
<rect x="241.50" y="419" width="175.50" height="1" fill="#404040"/>
<text transform="translate(329.25 410.40) skewX(0.05)" font-size="16.2" text-anchor="middle" fill="#000">MT</text>
<line x1="266.63" x2="266.63" y1="730.50" y2="735.30" stroke="#333333" stroke-width="1.2"/>
<text transform="translate(266.63 747.90) skewX(0.05)" font-size="12.4" text-anchor="middle" fill="#111111">CV1</text>
<line x1="308.18" x2="308.18" y1="730.50" y2="735.30" stroke="#333333" stroke-width="1.2"/>
<text transform="translate(308.18 747.90) skewX(0.05)" font-size="12.4" text-anchor="middle" fill="#111111">CV1</text>
<line x1="350.02" x2="350.02" y1="730.50" y2="735.30" stroke="#333333" stroke-width="1.2"/>
<text transform="translate(350.02 747.90) skewX(0.05)" font-size="12.4" text-anchor="middle" fill="#111111">CV2<tspan font-size="9" dy="2.2">G</tspan></text>
<line x1="391.57" x2="391.57" y1="730.50" y2="735.30" stroke="#333333" stroke-width="1.2"/>
<text transform="translate(391.57 747.90) skewX(0.05)" font-size="12.4" text-anchor="middle" fill="#111111">CV2<tspan font-size="9" dy="2.2">NG</tspan></text>
<rect x="426.00" y="419.10" width="174.50" height="311.40" fill="#ffffff"/>
<line x1="426.00" x2="600.50" y1="681.10" y2="681.10" stroke="#EBEBEB" stroke-width="1.0"/>
<line x1="426.00" x2="600.50" y1="610.30" y2="610.30" stroke="#EBEBEB" stroke-width="1.0"/>
<line x1="426.00" x2="600.50" y1="539.50" y2="539.50" stroke="#EBEBEB" stroke-width="1.0"/>
<line x1="426.00" x2="600.50" y1="468.70" y2="468.70" stroke="#EBEBEB" stroke-width="1.0"/>
<line x1="426.00" x2="600.50" y1="716.50" y2="716.50" stroke="#EBEBEB" stroke-width="1.35"/>
<line x1="426.00" x2="600.50" y1="645.70" y2="645.70" stroke="#EBEBEB" stroke-width="1.35"/>
<line x1="426.00" x2="600.50" y1="574.90" y2="574.90" stroke="#EBEBEB" stroke-width="1.35"/>
<line x1="426.00" x2="600.50" y1="504.10" y2="504.10" stroke="#EBEBEB" stroke-width="1.35"/>
<line x1="426.00" x2="600.50" y1="433.30" y2="433.30" stroke="#EBEBEB" stroke-width="1.35"/>
<line x1="450.63" x2="450.63" y1="419.10" y2="730.50" stroke="#EBEBEB" stroke-width="1.35"/>
<line x1="492.18" x2="492.18" y1="419.10" y2="730.50" stroke="#EBEBEB" stroke-width="1.35"/>
<line x1="534.02" x2="534.02" y1="419.10" y2="730.50" stroke="#EBEBEB" stroke-width="1.35"/>
<line x1="575.57" x2="575.57" y1="419.10" y2="730.50" stroke="#EBEBEB" stroke-width="1.35"/>
<line x1="450.63" x2="450.63" y1="563.57" y2="585.94" stroke="#333333" stroke-width="1.6"/>
<line x1="450.63" x2="450.63" y1="606.90" y2="626.44" stroke="#333333" stroke-width="1.6"/>
<rect x="435.05" y="585.94" width="31.16" height="20.96" fill="#A2A8A8" stroke="#333333" stroke-width="1.6"/>
<line x1="435.05" x2="466.21" y1="594.44" y2="594.44" stroke="#333333" stroke-width="3.0"/>
<line x1="492.18" x2="492.18" y1="577.45" y2="596.71" stroke="#333333" stroke-width="1.6"/>
<line x1="492.18" x2="492.18" y1="616.25" y2="627.58" stroke="#333333" stroke-width="1.6"/>
<rect x="476.60" y="596.71" width="31.16" height="19.54" fill="#A85A5A" stroke="#333333" stroke-width="1.6"/>
<line x1="476.60" x2="507.76" y1="607.47" y2="607.47" stroke="#333333" stroke-width="3.0"/>
<line x1="534.02" x2="534.02" y1="493.06" y2="504.95" stroke="#333333" stroke-width="1.6"/>
<line x1="534.02" x2="534.02" y1="513.73" y2="525.62" stroke="#333333" stroke-width="1.6"/>
<rect x="518.44" y="504.95" width="31.16" height="8.78" fill="#A85A5A" stroke="#333333" stroke-width="1.6"/>
<line x1="518.44" x2="549.60" y1="508.06" y2="508.06" stroke="#333333" stroke-width="3.0"/>
<circle cx="534.02" cy="530.72" r="3.0" fill="#333333" fill-opacity="0.75" stroke="#333333" stroke-opacity="0.75" stroke-width="1"/>
<line x1="575.57" x2="575.57" y1="487.96" y2="500.70" stroke="#333333" stroke-width="1.6"/>
<line x1="575.57" x2="575.57" y1="512.31" y2="525.91" stroke="#333333" stroke-width="1.6"/>
<rect x="559.99" y="500.70" width="31.16" height="11.61" fill="#A85A5A" stroke="#333333" stroke-width="1.6"/>
<line x1="559.99" x2="591.15" y1="506.65" y2="506.65" stroke="#333333" stroke-width="3.0"/>
<rect x="426.00" y="390.50" width="174.50" height="340.00" fill="none" stroke="#333333" stroke-width="1"/>
<rect x="426.50" y="391.00" width="173.50" height="27.10" fill="#D9D9D9"/>
<rect x="425.50" y="418" width="175.50" height="1" fill="#707070"/>
<rect x="425.50" y="419" width="175.50" height="1" fill="#404040"/>
<text transform="translate(513.25 410.40) skewX(0.05)" font-size="16.2" text-anchor="middle" fill="#000">Pt</text>
<line x1="450.63" x2="450.63" y1="730.50" y2="735.30" stroke="#333333" stroke-width="1.2"/>
<text transform="translate(450.63 747.90) skewX(0.05)" font-size="12.4" text-anchor="middle" fill="#111111">CV1</text>
<line x1="492.18" x2="492.18" y1="730.50" y2="735.30" stroke="#333333" stroke-width="1.2"/>
<text transform="translate(492.18 747.90) skewX(0.05)" font-size="12.4" text-anchor="middle" fill="#111111">CV1</text>
<line x1="534.02" x2="534.02" y1="730.50" y2="735.30" stroke="#333333" stroke-width="1.2"/>
<text transform="translate(534.02 747.90) skewX(0.05)" font-size="12.4" text-anchor="middle" fill="#111111">CV2<tspan font-size="9" dy="2.2">G</tspan></text>
<line x1="575.57" x2="575.57" y1="730.50" y2="735.30" stroke="#333333" stroke-width="1.2"/>
<text transform="translate(575.57 747.90) skewX(0.05)" font-size="12.4" text-anchor="middle" fill="#111111">CV2<tspan font-size="9" dy="2.2">NG</tspan></text>
<rect x="610.00" y="419.10" width="174.50" height="311.40" fill="#ffffff"/>
<line x1="610.00" x2="784.50" y1="681.10" y2="681.10" stroke="#EBEBEB" stroke-width="1.0"/>
<line x1="610.00" x2="784.50" y1="610.30" y2="610.30" stroke="#EBEBEB" stroke-width="1.0"/>
<line x1="610.00" x2="784.50" y1="539.50" y2="539.50" stroke="#EBEBEB" stroke-width="1.0"/>
<line x1="610.00" x2="784.50" y1="468.70" y2="468.70" stroke="#EBEBEB" stroke-width="1.0"/>
<line x1="610.00" x2="784.50" y1="716.50" y2="716.50" stroke="#EBEBEB" stroke-width="1.35"/>
<line x1="610.00" x2="784.50" y1="645.70" y2="645.70" stroke="#EBEBEB" stroke-width="1.35"/>
<line x1="610.00" x2="784.50" y1="574.90" y2="574.90" stroke="#EBEBEB" stroke-width="1.35"/>
<line x1="610.00" x2="784.50" y1="504.10" y2="504.10" stroke="#EBEBEB" stroke-width="1.35"/>
<line x1="610.00" x2="784.50" y1="433.30" y2="433.30" stroke="#EBEBEB" stroke-width="1.35"/>
<line x1="634.63" x2="634.63" y1="419.10" y2="730.50" stroke="#EBEBEB" stroke-width="1.35"/>
<line x1="676.18" x2="676.18" y1="419.10" y2="730.50" stroke="#EBEBEB" stroke-width="1.35"/>
<line x1="718.02" x2="718.02" y1="419.10" y2="730.50" stroke="#EBEBEB" stroke-width="1.35"/>
<line x1="759.57" x2="759.57" y1="419.10" y2="730.50" stroke="#EBEBEB" stroke-width="1.35"/>
<line x1="634.63" x2="634.63" y1="572.63" y2="588.78" stroke="#333333" stroke-width="1.6"/>
<line x1="634.63" x2="634.63" y1="608.03" y2="630.69" stroke="#333333" stroke-width="1.6"/>
<rect x="619.05" y="588.78" width="31.16" height="19.26" fill="#A2A8A8" stroke="#333333" stroke-width="1.6"/>
<line x1="619.05" x2="650.21" y1="596.42" y2="596.42" stroke="#333333" stroke-width="3.0"/>
<line x1="676.18" x2="676.18" y1="574.05" y2="600.67" stroke="#333333" stroke-width="1.6"/>
<line x1="676.18" x2="676.18" y1="617.95" y2="644.57" stroke="#333333" stroke-width="1.6"/>
<rect x="660.60" y="600.67" width="31.16" height="17.28" fill="#A85A5A" stroke="#333333" stroke-width="1.6"/>
<line x1="660.60" x2="691.76" y1="608.60" y2="608.60" stroke="#333333" stroke-width="3.0"/>
<line x1="718.02" x2="718.02" y1="478.33" y2="485.13" stroke="#333333" stroke-width="1.6"/>
<line x1="718.02" x2="718.02" y1="492.21" y2="502.40" stroke="#333333" stroke-width="1.6"/>
<rect x="702.44" y="485.13" width="31.16" height="7.08" fill="#A85A5A" stroke="#333333" stroke-width="1.6"/>
<line x1="702.44" x2="733.60" y1="489.37" y2="489.37" stroke="#333333" stroke-width="3.0"/>
<line x1="759.57" x2="759.57" y1="475.78" y2="482.58" stroke="#333333" stroke-width="1.6"/>
<line x1="759.57" x2="759.57" y1="488.81" y2="497.02" stroke="#333333" stroke-width="1.6"/>
<rect x="743.99" y="482.58" width="31.16" height="6.23" fill="#A85A5A" stroke="#333333" stroke-width="1.6"/>
<line x1="743.99" x2="775.15" y1="485.69" y2="485.69" stroke="#333333" stroke-width="3.0"/>
<circle cx="759.57" cy="471.53" r="3.0" fill="#333333" fill-opacity="0.75" stroke="#333333" stroke-opacity="0.75" stroke-width="1"/>
<circle cx="759.57" cy="499.85" r="3.0" fill="#333333" fill-opacity="0.75" stroke="#333333" stroke-opacity="0.75" stroke-width="1"/>
<circle cx="759.57" cy="499.29" r="3.0" fill="#333333" fill-opacity="0.75" stroke="#333333" stroke-opacity="0.75" stroke-width="1"/>
<rect x="610.00" y="390.50" width="174.50" height="340.00" fill="none" stroke="#333333" stroke-width="1"/>
<rect x="610.50" y="391.00" width="173.50" height="27.10" fill="#D9D9D9"/>
<rect x="609.50" y="418" width="175.50" height="1" fill="#707070"/>
<rect x="609.50" y="419" width="175.50" height="1" fill="#404040"/>
<text transform="translate(697.25 410.40) skewX(0.05)" font-size="16.2" text-anchor="middle" fill="#000">WG</text>
<line x1="634.63" x2="634.63" y1="730.50" y2="735.30" stroke="#333333" stroke-width="1.2"/>
<text transform="translate(634.63 747.90) skewX(0.05)" font-size="12.4" text-anchor="middle" fill="#111111">CV1</text>
<line x1="676.18" x2="676.18" y1="730.50" y2="735.30" stroke="#333333" stroke-width="1.2"/>
<text transform="translate(676.18 747.90) skewX(0.05)" font-size="12.4" text-anchor="middle" fill="#111111">CV1</text>
<line x1="718.02" x2="718.02" y1="730.50" y2="735.30" stroke="#333333" stroke-width="1.2"/>
<text transform="translate(718.02 747.90) skewX(0.05)" font-size="12.4" text-anchor="middle" fill="#111111">CV2<tspan font-size="9" dy="2.2">G</tspan></text>
<line x1="759.57" x2="759.57" y1="730.50" y2="735.30" stroke="#333333" stroke-width="1.2"/>
<text transform="translate(759.57 747.90) skewX(0.05)" font-size="12.4" text-anchor="middle" fill="#111111">CV2<tspan font-size="9" dy="2.2">NG</tspan></text>
<line x1="53.20" x2="58.00" y1="716.50" y2="716.50" stroke="#333333" stroke-width="1.3"/>
<text transform="translate(49.40 721.00) skewX(0.05)" font-size="12.0" text-anchor="end" fill="#111111">0.00</text>
<line x1="53.20" x2="58.00" y1="645.70" y2="645.70" stroke="#333333" stroke-width="1.3"/>
<text transform="translate(49.40 650.20) skewX(0.05)" font-size="12.0" text-anchor="end" fill="#111111">0.25</text>
<line x1="53.20" x2="58.00" y1="574.90" y2="574.90" stroke="#333333" stroke-width="1.3"/>
<text transform="translate(49.40 579.40) skewX(0.05)" font-size="12.0" text-anchor="end" fill="#111111">0.50</text>
<line x1="53.20" x2="58.00" y1="504.10" y2="504.10" stroke="#333333" stroke-width="1.3"/>
<text transform="translate(49.40 508.60) skewX(0.05)" font-size="12.0" text-anchor="end" fill="#111111">0.75</text>
<line x1="53.20" x2="58.00" y1="433.30" y2="433.30" stroke="#333333" stroke-width="1.3"/>
<text transform="translate(49.40 437.80) skewX(0.05)" font-size="12.0" text-anchor="end" fill="#111111">1.00</text>
<text transform="translate(12.80 575.50) rotate(-90) skewX(0.05)" font-size="14.25" text-anchor="middle" fill="#000">Predictive ability</text>
<text transform="translate(420.65 771.60) skewX(0.05)" font-size="14" text-anchor="middle" fill="#000">CV</text>
<text transform="translate(335.90 19.00) skewX(0.05)" font-size="19.6" text-anchor="start" fill="#000">Model</text>
<line x1="410.50" x2="410.50" y1="0" y2="23.7" stroke="#333333" stroke-width="1.3"/>
<rect x="399.90" y="4.9" width="21.2" height="13.9" fill="#A2A8A8" stroke="#333333" stroke-width="1.5"/>
<line x1="399.90" x2="421.10" y1="11.7" y2="11.7" stroke="#333333" stroke-width="2.0"/>
<text transform="translate(428.00 18.00) skewX(0.05)" font-size="16.0" text-anchor="start" fill="#000">ST</text>
<line x1="465.70" x2="465.70" y1="0" y2="23.7" stroke="#333333" stroke-width="1.3"/>
<rect x="455.10" y="4.9" width="21.2" height="13.9" fill="#A85A5A" stroke="#333333" stroke-width="1.5"/>
<line x1="455.10" x2="476.30" y1="11.7" y2="11.7" stroke="#333333" stroke-width="2.0"/>
<text transform="translate(483.10 18.00) skewX(0.05)" font-size="16.0" text-anchor="start" fill="#000">MT</text>
</svg>
</body></html>
